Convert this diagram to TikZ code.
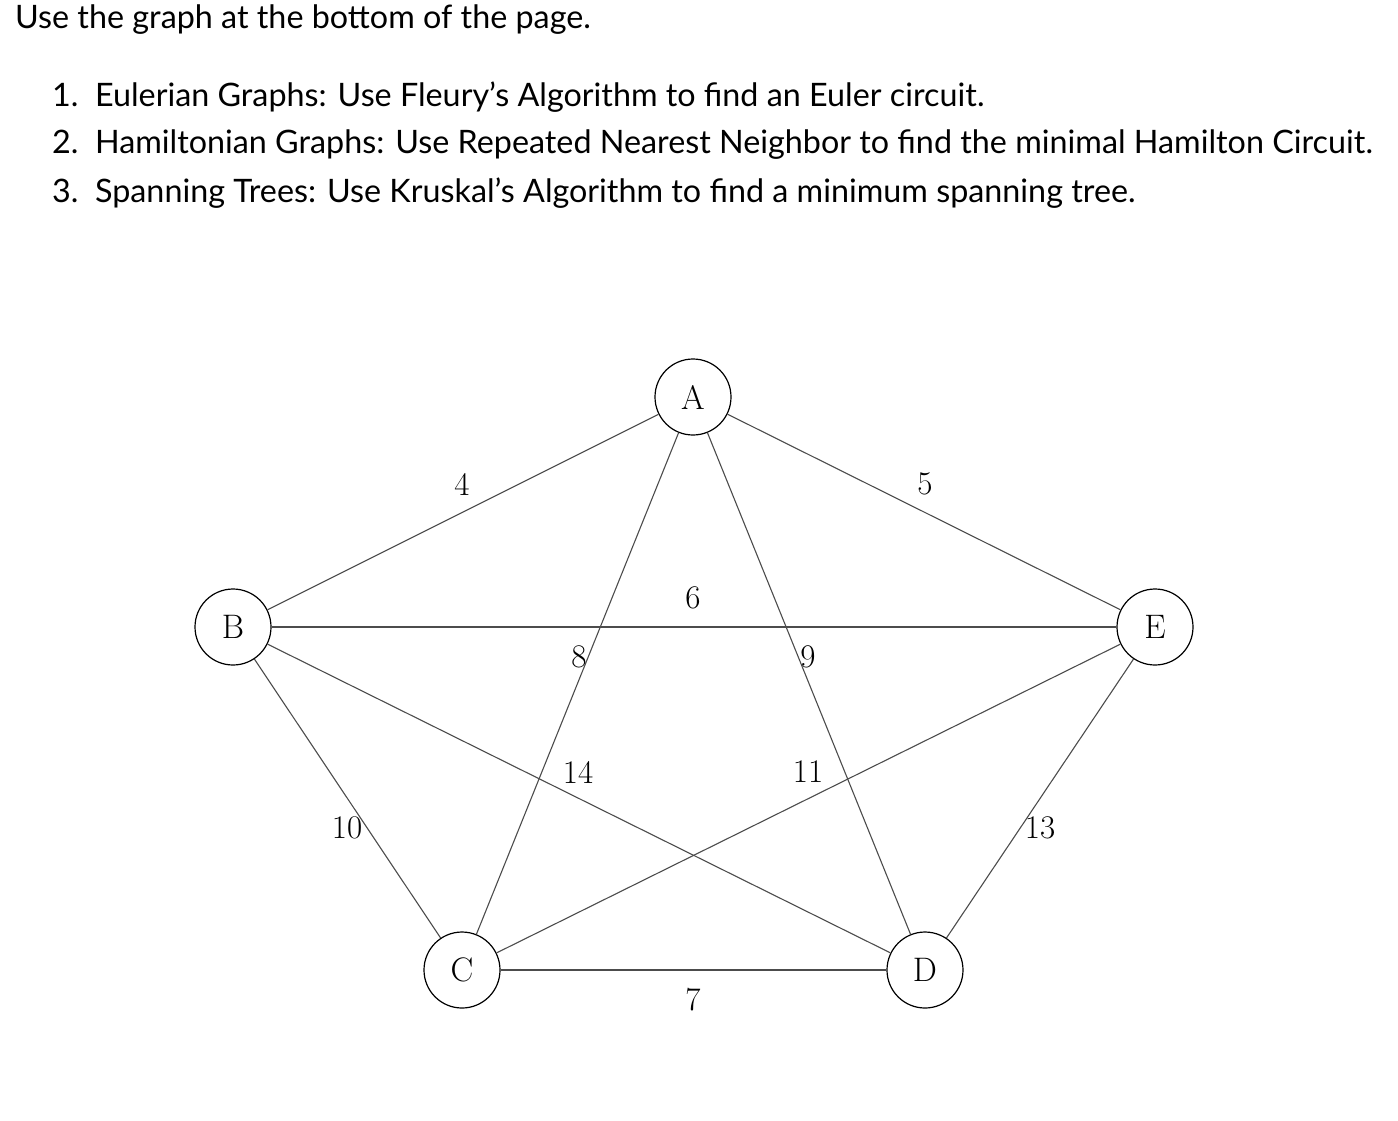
\documentclass[tikz,border=0pt]{standalone}
\usepackage{fontspec}
\newfontfamily\lato{Lato}
\begin{document}
\begin{tikzpicture}[x=1pt,y=-1pt,
  vtx/.style={circle,draw,line width=1.2pt,minimum size=76pt,inner sep=0pt,font=\fontsize{34}{34}\selectfont},
  edge/.style={line width=1.1pt,draw=black!70},
  wt/.style={font=\fontsize{33}{33}\selectfont,inner sep=1pt},
  txt/.style={anchor=west,font=\lato\fontsize{32.3}{34}\selectfont,inner sep=0pt}]
\useasboundingbox (0,0) rectangle (1398,1120);
\node[txt] (t0) at (15,20) {Use the graph at the bottom of the page.};
\node[txt] (t1) at (52,97) {1.\ \ Eulerian Graphs: Use Fleury’s Algorithm to find an Euler circuit.};
\node[txt] (t2) at (52,145) {2.\ \ Hamiltonian Graphs: Use Repeated Nearest Neighbor to find the minimal Hamilton Circuit.};
\node[txt] (t3) at (52,193) {3.\ \ Spanning Trees: Use Kruskal’s Algorithm to find a minimum spanning tree.};
\node[vtx] (A) at (693,397) {A};
\node[vtx] (B) at (233,627) {B};
\node[vtx] (C) at (462,970) {C};
\node[vtx] (D) at (925,970) {D};
\node[vtx] (E) at (1155,627) {E};
\draw[edge] (A)--(B); \draw[edge] (A)--(E); \draw[edge] (A)--(C); \draw[edge] (A)--(D);
\draw[edge] (B)--(E); \draw[edge] (B)--(C); \draw[edge] (B)--(D);
\draw[edge] (E)--(C); \draw[edge] (E)--(D); \draw[edge] (C)--(D);
\node[wt] (w4) at (462,484) {4};
\node[wt] (w5) at (925,484) {5};
\node[wt] (w6) at (693,598) {6};
\node[wt] (w8) at (579,657) {8};
\node[wt] (w9) at (808,657) {9};
\node[wt] (w14) at (578,772) {14};
\node[wt] (w11) at (808,772) {11};
\node[wt] (w10) at (347,828) {10};
\node[wt] (w13) at (1040,828) {13};
\node[wt] (w7) at (693,1000) {7};
\end{tikzpicture}
\end{document}
